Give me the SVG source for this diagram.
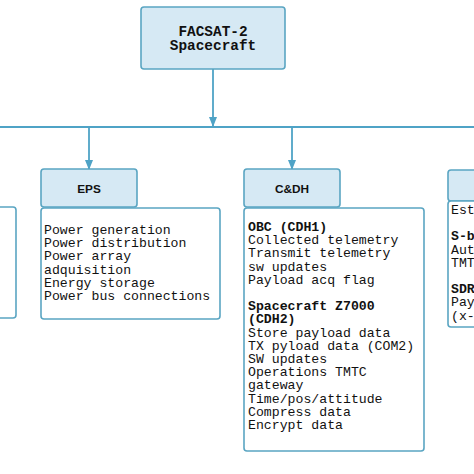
<svg xmlns="http://www.w3.org/2000/svg" width="474" height="474" viewBox="0 0 474 474">
<defs>
<marker id="ah" markerWidth="10" markerHeight="10" refX="9" refY="5" orient="auto" markerUnits="userSpaceOnUse">
<path d="M0,1 L10,5 L0,9 Z" fill="#4fa3c6"/>
</marker>
<style>
.hdr{fill:#d6e9f4;stroke:#5aa5c2;stroke-width:1.6}
.body{fill:#ffffff;stroke:#5aa5c2;stroke-width:1.6}
.conn{stroke:#4fa3c6;stroke-width:1.8;fill:none}
.t{font-family:"Liberation Mono",monospace;font-size:13.2px;fill:#111}
.b{font-weight:bold}
.h{font-family:"Liberation Sans",Arial,sans-serif;font-size:11.8px;font-weight:bold;fill:#111;text-anchor:middle}
.top{font-family:"Liberation Mono",monospace;font-size:14.4px;font-weight:bold;fill:#111;text-anchor:middle}
</style>
</defs>
<rect width="474" height="474" fill="#ffffff"/>
<g id="connectors">
<line class="conn" x1="213" y1="69" x2="213" y2="126" marker-end="url(#ah)"/>
<line class="conn" x1="0" y1="127" x2="474" y2="127"/>
<line class="conn" x1="89" y1="127" x2="89" y2="169" marker-end="url(#ah)"/>
<line class="conn" x1="292" y1="127" x2="292" y2="169" marker-end="url(#ah)"/>
</g>
<g id="spacecraft">
<rect class="hdr" x="141" y="7" width="144" height="62" rx="3"/>
<text class="top" x="213" y="36">FACSAT-2</text>
<text class="top" x="213" y="50">Spacecraft</text>
</g>
<g id="left">
<rect class="body" x="-20" y="207" width="36" height="111" rx="3"/>
</g>
<g id="eps">
<rect class="hdr" x="41" y="169" width="96" height="38" rx="3"/>
<text class="h" x="89" y="193">EPS</text>
<rect class="body" x="41" y="208" width="179" height="111" rx="3"/>
<text class="t" x="44" y="234">Power generation</text>
<text class="t" x="44" y="247.2">Power distribution</text>
<text class="t" x="44" y="260.4">Power array</text>
<text class="t" x="44" y="273.6">adquisition</text>
<text class="t" x="44" y="286.8">Energy storage</text>
<text class="t" x="44" y="300">Power bus connections</text>
</g>
<g id="cdh">
<rect class="hdr" x="244" y="169" width="96" height="38" rx="3"/>
<text class="h" x="292" y="193">C&amp;DH</text>
<rect class="body" x="244" y="208" width="180" height="243" rx="3"/>
<text class="t b" x="248" y="231">OBC (CDH1)</text>
<text class="t" x="248" y="244.2">Collected telemetry</text>
<text class="t" x="248" y="257.4">Transmit telemetry</text>
<text class="t" x="248" y="270.6">sw updates</text>
<text class="t" x="248" y="283.8">Payload acq flag</text>
<text class="t b" x="248" y="310.2">Spacecraft Z7000</text>
<text class="t b" x="248" y="323.4">(CDH2)</text>
<text class="t" x="248" y="336.6">Store payload data</text>
<text class="t" x="248" y="349.8">TX pyload data (COM2)</text>
<text class="t" x="248" y="363">SW updates</text>
<text class="t" x="248" y="376.2">Operations TMTC</text>
<text class="t" x="248" y="389.4">gateway</text>
<text class="t" x="248" y="402.6">Time/pos/attitude</text>
<text class="t" x="248" y="415.8">Compress data</text>
<text class="t" x="248" y="429">Encrypt data</text>
</g>
<g id="right">
<rect class="hdr" x="448" y="170" width="60" height="31" rx="3"/>
<rect class="body" x="448" y="201" width="60" height="126" rx="3"/>
<text class="t" x="451" y="214">Est</text>
<text class="t b" x="451" y="240.4">S-b</text>
<text class="t" x="451" y="253.6">Aut</text>
<text class="t" x="451" y="266.8">TMT</text>
<text class="t b" x="451" y="293.2">SDR</text>
<text class="t" x="451" y="306.4">Pay</text>
<text class="t" x="451" y="319.6">(x-</text>
</g>
</svg>
